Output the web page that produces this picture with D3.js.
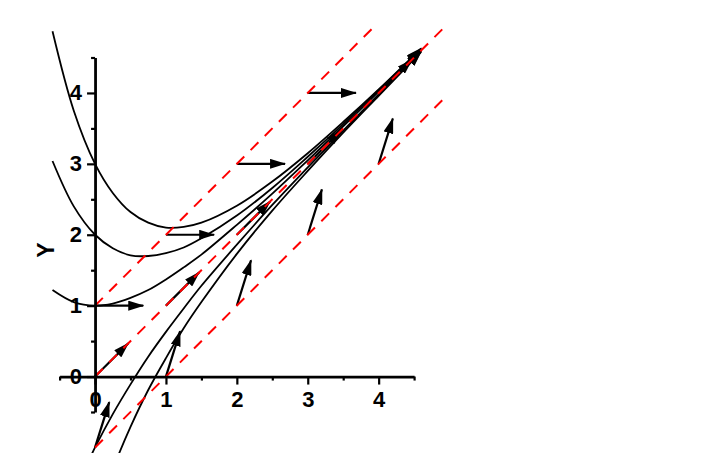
<!DOCTYPE html>
<html>
<head>
<meta charset="utf-8">
<script src="https://cdn.jsdelivr.net/npm/d3@7"></script>
<style>
  body { margin: 0; background: #fff; }
  svg text { font-family: "Liberation Sans", Arial, sans-serif; font-weight: bold; }
</style>
</head>
<body>
<svg id="chart" width="720" height="459"></svg>
<script>
// solution curves (x, y pairs)
var curveX = [-0.6, -0.3, 0, 0.25, 0.5, 0.75, 1, 1.25, 1.5, 2, 2.5, 3, 3.5, 4, 4.6];
var curveA = [4.87, 3.75, 3.00, 2.59, 2.32, 2.17, 2.10, 2.11, 2.17, 2.41, 2.75, 3.15, 3.59, 4.05, 4.63];
var curveB = [3.04, 2.40, 2.00, 1.81, 1.71, 1.70, 1.74, 1.82, 1.95, 2.27, 2.66, 3.10, 3.56, 4.04, 4.62];
var curveC = [1.22, 1.05, 1.00, 1.03, 1.11, 1.22, 1.37, 1.54, 1.72, 2.14, 2.58, 3.05, 3.53, 4.02, 4.61];
var curveDX = [-0.1, 0, 0.25, 0.5, 0.75, 1, 1.25, 1.5, 2, 2.5, 3, 3.5, 4, 4.6];
var curveD = [-1.21, -1.00, -0.53, -0.11, 0.28, 0.63, 0.96, 1.28, 1.86, 2.42, 2.95, 3.47, 3.98, 4.59];
var curveEX = [0.2, 0.3, 0.5, 0.75, 1, 1.25, 1.5, 2, 2.5, 3, 3.5, 4, 4.6];
var curveE = [-1.44, -1.18, -0.71, -0.19, 0.26, 0.68, 1.05, 1.73, 2.34, 2.90, 3.44, 3.96, 4.58];

// red dashed isoclines y = x + b
var isoOffset = [1, 0, -1];
var isoEndX = [3.93, 4.93, 4.97];

// direction arrows: start x on each isocline and the arrow vector
var flatX = [0, 1, 2, 3];      // on y = x + 1
var flatVec = [0.68, 0];
var diagX = [0, 1, 2, 3, 4];   // on y = x
var diagVec = [0.47, 0.47];
var steepX = [0, 1, 2, 3, 4];  // on y = x - 1
var steepVec = [0.2, 0.64];

var majorTicks = [0, 1, 2, 3, 4];
var minorTicks = [-0.5, 0.5, 1.5, 2.5, 3.5, 4.5];

var svg = d3.select("svg");

var x = d3.scaleLinear().domain([-0.5, 4.5]).range([59.6, 414.1]),
    y = d3.scaleLinear().domain([-0.5, 4.5]).range([412, 57.5]);

var defs = svg.append("defs");
defs.append("marker")
    .attr("id", "head")
    .attr("viewBox", "0 -5 16 10")
    .attr("refX", 15)
    .attr("refY", 0)
    .attr("markerWidth", 16)
    .attr("markerHeight", 10)
    .attr("markerUnits", "userSpaceOnUse")
    .attr("orient", "auto")
  .append("path")
    .attr("d", "M0,-5L16,0L0,5Z")
    .attr("fill", "black");

defs.append("clipPath").attr("id", "clip")
  .append("rect")
    .attr("x", 0).attr("y", 0)
    .attr("width", 720).attr("height", y(-1.08));

var line = d3.line()
    .x(function(d) { return x(d[0]); })
    .y(function(d) { return y(d[1]); })
    .curve(d3.curveCatmullRom);

var curves = [
  d3.zip(curveX, curveA),
  d3.zip(curveX, curveB),
  d3.zip(curveX, curveC),
  d3.zip(curveDX, curveD),
  d3.zip(curveEX, curveE)
];

svg.append("g")
    .attr("clip-path", "url(#clip)")
  .selectAll(".sol")
  .data(curves)
  .enter().append("path")
    .attr("class", "sol")
    .attr("d", line)
    .attr("fill", "none")
    .attr("stroke", "black")
    .attr("stroke-width", 1.8)
    .attr("marker-end", "url(#head)");

// arrows
var arrows = [];
flatX.forEach(function(a) { arrows.push([a, a + 1, flatVec]); });
diagX.forEach(function(a) { arrows.push([a, a, diagVec]); });
steepX.forEach(function(a) { arrows.push([a, a - 1, steepVec]); });

svg.append("g").selectAll(".arrow")
  .data(arrows)
  .enter().append("line")
    .attr("class", "arrow")
    .attr("x1", function(d) { return x(d[0]); })
    .attr("y1", function(d) { return y(d[1]); })
    .attr("x2", function(d) { return x(d[0] + d[2][0]); })
    .attr("y2", function(d) { return y(d[1] + d[2][1]); })
    .attr("stroke", "black")
    .attr("stroke-width", 2.2)
    .attr("marker-end", "url(#head)");

// isoclines
svg.append("g").selectAll(".iso")
  .data(isoOffset)
  .enter().append("line")
    .attr("class", "iso")
    .attr("x1", function(b) { return x(0); })
    .attr("y1", function(b) { return y(b); })
    .attr("x2", function(b, i) { return x(isoEndX[i]); })
    .attr("y2", function(b, i) { return y(isoEndX[i] + b); })
    .attr("stroke", "#ff0000")
    .attr("stroke-width", 2)
    .attr("stroke-dasharray", "11,9");

// axes
function styleAxis(g) {
  g.select(".domain").attr("stroke-width", 2.8);
  g.selectAll(".tick line").attr("stroke-width", 2.2);
  g.selectAll(".tick text").style("font-size", "22px").attr("fill", "black");
}

var xg = svg.append("g")
    .attr("transform", "translate(0," + y(0) + ")");
xg.append("g")
    .call(d3.axisBottom(x).tickValues(minorTicks).tickSize(4).tickSizeOuter(0).tickFormat(""))
    .call(styleAxis);
xg.append("g")
    .call(d3.axisBottom(x).tickValues(majorTicks).tickSize(8).tickSizeOuter(0).tickPadding(7).tickFormat(d3.format("d")))
    .call(styleAxis)
    .select(".domain").remove();

var yg = svg.append("g")
    .attr("transform", "translate(" + x(0) + ",0)");
yg.append("g")
    .call(d3.axisLeft(y).tickValues(minorTicks).tickSize(4).tickSizeOuter(0).tickFormat(""))
    .call(styleAxis);
yg.append("g")
    .call(d3.axisLeft(y).tickValues(majorTicks).tickSize(8).tickSizeOuter(0).tickPadding(5).tickFormat(d3.format("d")))
    .call(styleAxis)
    .select(".domain").remove();

svg.append("text")
    .attr("transform", "translate(46,250) rotate(-90)")
    .attr("text-anchor", "middle")
    .attr("dominant-baseline", "central")
    .style("font-size", "23px")
    .text("Y");
</script>
</body>
</html>
